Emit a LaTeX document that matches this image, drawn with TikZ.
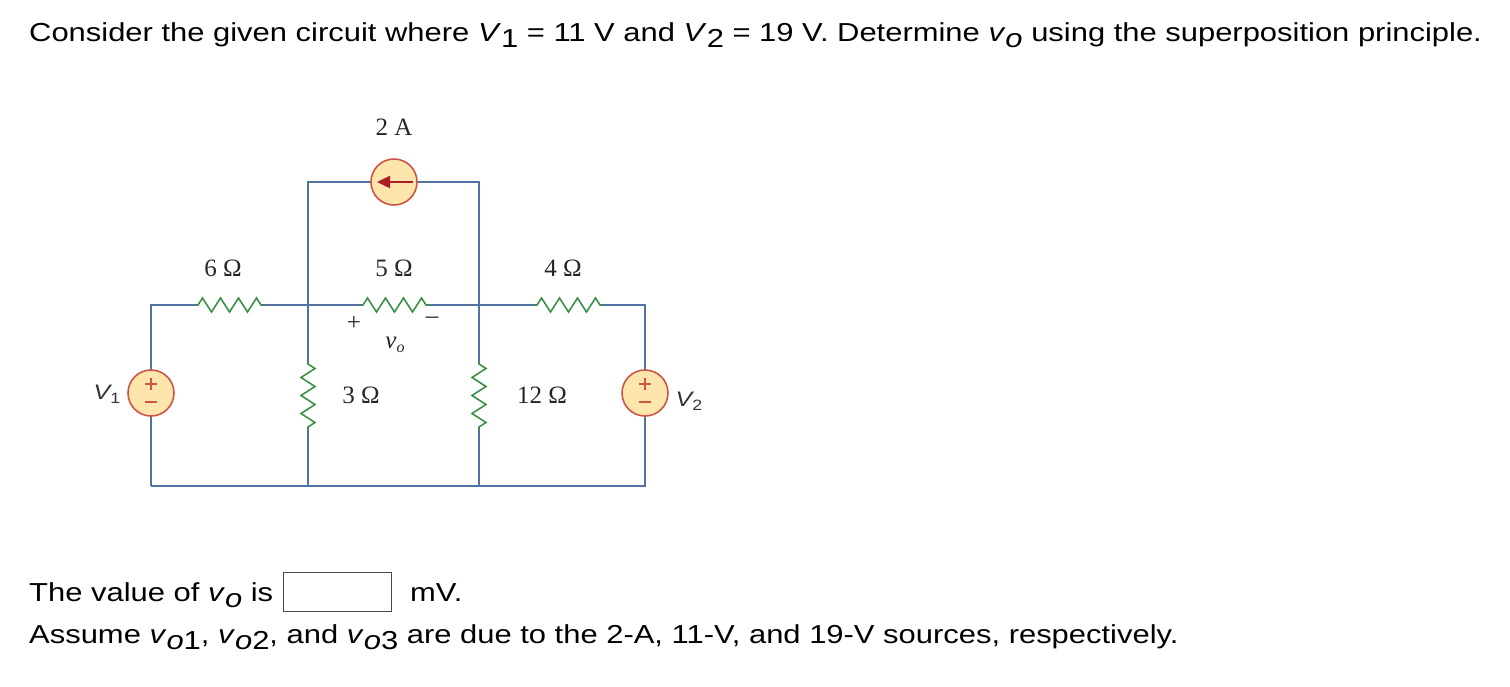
\documentclass[tikz,border=0pt]{standalone}
\usepackage{fontspec}
\setmainfont{Liberation Sans}[FakeStretch=1.19]
\newfontfamily\serif{Liberation Serif}
\usetikzlibrary{decorations.pathmorphing,arrows.meta,calc}
\definecolor{wire}{RGB}{80,115,160}
\definecolor{resc}{RGB}{60,145,70}
\definecolor{srcf}{RGB}{253,230,172}
\definecolor{srcb}{RGB}{205,85,70}
\definecolor{arr}{RGB}{175,30,40}
\newcommand{\sbs}[1]{\raisebox{-0.5ex}{#1}}
\begin{document}
\begin{tikzpicture}[x=1pt,y=-1pt,
  w/.style={draw=wire,line width=1.6pt},
  res/.style={draw=resc,line width=1.6pt,decorate,decoration={zigzag,segment length=18pt,amplitude=7pt,pre length=2pt,post length=2pt}},
  src/.style={circle,draw=srcb,fill=srcf,line width=1.6pt,minimum size=46pt,inner sep=0pt},
  lab/.style={font=\serif\fontsize{25}{25}\selectfont,text=black!85},
  txt/.style={font=\fontsize{26}{30}\selectfont,anchor=base west,inner sep=0pt}]
\useasboundingbox (0,0) rectangle (1510,686);
\node[txt] (t1) at (29,41) {Consider the given circuit where \textit{V}\sbs{1} = 11 V and \textit{V}\sbs{2} = 19 V. Determine \textit{v}\sbs{\textit{o}} using the superposition principle.};
% coordinates
\coordinate (tl) at (308,182); \coordinate (tr) at (479,182);
\coordinate (ml) at (151,305); \coordinate (na) at (308,305); \coordinate (nb) at (479,305); \coordinate (mr) at (645,305);
\coordinate (bl) at (151,486); \coordinate (ba) at (308,486); \coordinate (bb) at (479,486); \coordinate (br) at (645,486);
\coordinate (r6a) at (196,305); \coordinate (r6b) at (263,305);
\coordinate (r5a) at (361,305); \coordinate (r5b) at (429,305);
\coordinate (r4a) at (535,305); \coordinate (r4b) at (602,305);
\coordinate (r3a) at (308,362); \coordinate (r3b) at (308,430);
\coordinate (r12a) at (479,362); \coordinate (r12b) at (479,430);
% wires
\draw[w] (bl) -- (ml) -- (r6a); \draw[w] (r6b) -- (r5a); \draw[w] (r5b) -- (r4a); \draw[w] (r4b) -- (mr) -- (br) -- (bl);
\draw[w] (ba) -- (r3b); \draw[w] (r3a) -- (tl) -- (tr) -- (r12a); \draw[w] (r12b) -- (bb);
% resistors
\draw[res] (r6a) -- (r6b); \draw[res] (r5a) -- (r5b); \draw[res] (r4a) -- (r4b);
\draw[res] (r3a) -- (r3b); \draw[res] (r12a) -- (r12b);
% sources
\node[src] (cs) at (394,182) {};
\draw[arr,line width=2.4pt,-{Triangle[length=13pt,width=12pt]}] ($(cs)+(19,0)$) -- ($(cs)+(-17,0)$);
\node[src] (v1) at (151,393) {};
\node[src] (v2) at (645,393) {};
\foreach \s in {v1,v2}{
  \draw[srcb,line width=1.5pt] ($(\s)+(-6,-9)$) -- ++(12,0) ($(\s)+(0,-15)$) -- ++(0,12)
     ($(\s)+(-6,9)$) -- ++(12,0);}
% labels
\node[lab] (l2a) at (394,127) {2 A};
\node[lab] (l6) at (223,268) {6 Ω};
\node[lab] (l5) at (394,268) {5 Ω};
\node[lab] (l4) at (563,268) {4 Ω};
\node[lab] (l3) at (361,395) {3 Ω};
\node[lab] (l12) at (542,395) {12 Ω};
\node[lab] (pl) at (354,323) {+};
\node[lab] (mi) at (432,320) {–};
\node[lab] (vo) at (395,345) {\textit{v\raisebox{-0.4ex}{\fontsize{16}{16}\selectfont o}}};
\node[font=\fontsize{21}{21}\selectfont\itshape,text=black!80] (lv1) at (107,394) {V\raisebox{-0.4ex}{\fontsize{15}{15}\selectfont\upshape 1}};
\node[font=\fontsize{21}{21}\selectfont\itshape,text=black!80] (lv2) at (689,401) {V\raisebox{-0.4ex}{\fontsize{15}{15}\selectfont\upshape 2}};
% bottom text
\node[txt] (t2) at (29,601) {The value of \textit{v}\sbs{\textit{o}} is};
\draw[line width=1pt,black!70] (283,572) rectangle (391,611);
\node[txt] (t3) at (410,601) {mV.};
\node[txt] (t4) at (29,643) {Assume \textit{v}\sbs{\textit{o}1}, \textit{v}\sbs{\textit{o}2}, and \textit{v}\sbs{\textit{o}3} are due to the 2-A, 11-V, and 19-V sources, respectively.};
\end{tikzpicture}
\end{document}
